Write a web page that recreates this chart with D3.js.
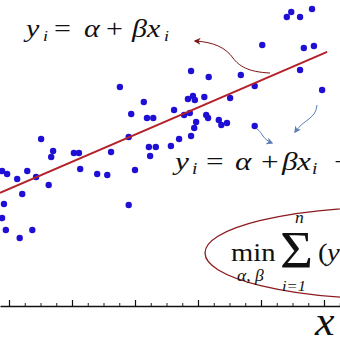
<!DOCTYPE html>
<html>
<head>
<meta charset="utf-8">
<script src="https://cdn.jsdelivr.net/npm/d3@7"></script>
<style>
  body { margin: 0; background: #fff; }
  svg { display: block; }
</style>
</head>
<body>
<svg width="340" height="340"></svg>
<script>
// scatter points (x units, y units)
const xs = [1.76, 2.14, 1.94, 2.19, 2.29, 0.51, 0.70, 0.67, 1.03, 1.11, 1.62, 1.90, 2.22, 2.33, 2.24, 2.57,
  -0.11, -0.03, 0.29, 1.13, 2.00, 4.81, 4.48, 4.41, 4.62, 4.02, 4.68, 4.84, 2.89, 3.17, 3.68, 4.62, 3.90, 4.97,
  2.84, 2.92, 2.95, 3.10, 3.51, 2.62, 2.78, 2.87, 3.13, 3.16, 3.33, 2.97, 3.37, 3.46, 2.94, 3.90, 2.70, 2.89,
  0.13, 0.43, 1.40, 1.56, 0.63, 0.21, -0.08, -0.11, -0.05, 0.37, 0.17, 1.90];
const ys = [4.38, 4.08, 3.84, 3.76, 3.76, 3.34, 3.10, 2.98, 3.06, 3.06, 3.08, 3.38, 3.18, 3.18, 3.00, 3.20,
  2.70, 2.64, 2.70, 2.74, 2.72, 5.94, 5.88, 5.78, 5.78, 5.22, 5.16, 5.20, 4.70, 4.58, 4.62, 4.72, 4.40, 4.32,
  4.14, 4.20, 4.12, 4.18, 4.16, 3.92, 3.82, 3.86, 3.82, 3.76, 3.72, 3.68, 3.62, 3.66, 3.56, 3.60, 3.34, 3.40,
  2.54, 2.58, 2.64, 2.62, 2.42, 2.24, 2.04, 1.76, 1.52, 1.52, 1.36, 2.02];

// fitted line y = alpha + beta * x
const alpha = 2.34, beta = 0.543;
const lineX = [-0.143, 5.05];

const majorTicks = [0, 1, 2, 3, 4, 5];
const minorTicks = d3.range(0, 5.26, 0.25);

const svg = d3.select("svg");
const W = 340;
const serif = "'Liberation Serif', 'DejaVu Serif', 'Times New Roman', serif";

const x = d3.scaleLinear().domain([-9 / 63, 331 / 63]).range([0, W]);
const y = d3.scaleLinear().domain([0, 6]).range([306, 6]);

// axis along the bottom, ticks pointing up
svg.append("g")
    .attr("transform", "translate(0,306)")
    .call(d3.axisTop(x).tickValues(minorTicks).tickSize(3).tickSizeOuter(0).tickFormat(""))
    .call(g => g.selectAll("line").attr("stroke", "#222"))
    .call(g => g.select(".domain").attr("stroke", "#111").attr("stroke-width", 1.3));
svg.append("g")
    .attr("transform", "translate(0,306)")
    .call(d3.axisTop(x).tickValues(majorTicks).tickSize(6).tickSizeOuter(0).tickFormat(""))
    .call(g => g.select(".domain").remove())
    .call(g => g.selectAll("line").attr("stroke", "#111").attr("stroke-width", 1.2));

// ellipse
svg.append("ellipse")
    .attr("cx", 395).attr("cy", 253)
    .attr("rx", 190).attr("ry", 46)
    .attr("fill", "none")
    .attr("stroke", "#8b1a1f")
    .attr("stroke-width", 1.3);

// points
svg.append("g").selectAll("circle")
  .data(xs.map((d, i) => [d, ys[i]]))
  .enter()
  .append("circle")
    .attr("cx", d => x(d[0]))
    .attr("cy", d => y(d[1]))
    .attr("r", 3.2)
    .attr("fill", "#1f0fd4");

// regression line
svg.append("path")
    .datum(lineX)
    .attr("d", d3.line().x(d => x(d)).y(d => y(alpha + beta * d)))
    .attr("stroke", "#b3212a")
    .attr("stroke-width", 2)
    .attr("fill", "none");

// arrows
const defs = svg.append("defs");
[["red", "#7e1414"], ["blue", "#5a7db3"]].forEach(([id, c]) => {
  defs.append("marker")
      .attr("id", "arr-" + id)
      .attr("viewBox", "0 0 10 10")
      .attr("refX", 8).attr("refY", 5)
      .attr("markerWidth", 7).attr("markerHeight", 7)
      .attr("orient", "auto")
    .append("path")
      .attr("d", "M0,0 L10,5 L0,10 L3,5 Z")
      .attr("fill", c);
});
svg.append("path")
    .attr("d", "M270,73 C248,72 239,66 233,58 C226,48 214,42 195,41")
    .attr("fill", "none").attr("stroke", "#7e1414").attr("stroke-width", 1)
    .attr("marker-end", "url(#arr-red)");
svg.append("path")
    .attr("d", "M257,129 C263,133 262,139 272,143")
    .attr("fill", "none").attr("stroke", "#5a7db3").attr("stroke-width", 1)
    .attr("marker-end", "url(#arr-blue)");
svg.append("path")
    .attr("d", "M317,105 C316,119 304,119 295,132")
    .attr("fill", "none").attr("stroke", "#5a7db3").attr("stroke-width", 1)
    .attr("marker-end", "url(#arr-blue)");

// equations, placed glyph by glyph (slightly widened, like the TeX glyphs)
function piece(txt, px, py, size, italic, sx = 1.2, sy = 1) {
  svg.append("text")
      .attr("transform", `translate(${px},${py}) scale(${sx},${sy})`)
      .attr("font-family", serif)
      .attr("font-size", size)
      .attr("font-style", italic ? "italic" : "normal")
      .attr("fill", "#111")
      .text(txt);
}
// y_i = α + βx_i
piece("y", 26, 37, 25, true);
piece("i", 43, 41, 15, true);
piece("=", 54, 37, 25, false);
piece("α", 84, 37, 25, true);
piece("+", 106, 37, 25, false);
piece("β", 132, 37, 25, true);
piece("x", 147, 37, 25, true);
piece("i", 164, 41, 15, true);

// y_i = α + βx_i + ε_i
piece("y", 175, 170, 26, true);
piece("i", 192, 174, 16, true);
piece("=", 206, 170, 26, false);
piece("α", 235, 170, 26, true);
piece("+", 261, 170, 26, false);
piece("β", 282, 170, 26, true);
piece("x", 297, 170, 26, true);
piece("i", 312, 174, 16, true);
piece("+", 334, 170, 26, false);

// min over alpha, beta of sum
piece("min", 231, 261, 26, false, 1.1);
piece("α, β", 237, 281, 16, true, 1.1);
piece("Σ", 280, 268, 42, false, 1.35, 1.25);
piece("n", 295, 223, 16, true, 1.1);
piece("i=1", 282, 291, 15, true, 1.1);
piece("(", 318, 261, 26, false, 1.1);
piece("y", 327, 261, 26, true, 1.1);

// axis label
piece("x", 315, 335, 40, true, 1.1);
</script>
</body>
</html>
